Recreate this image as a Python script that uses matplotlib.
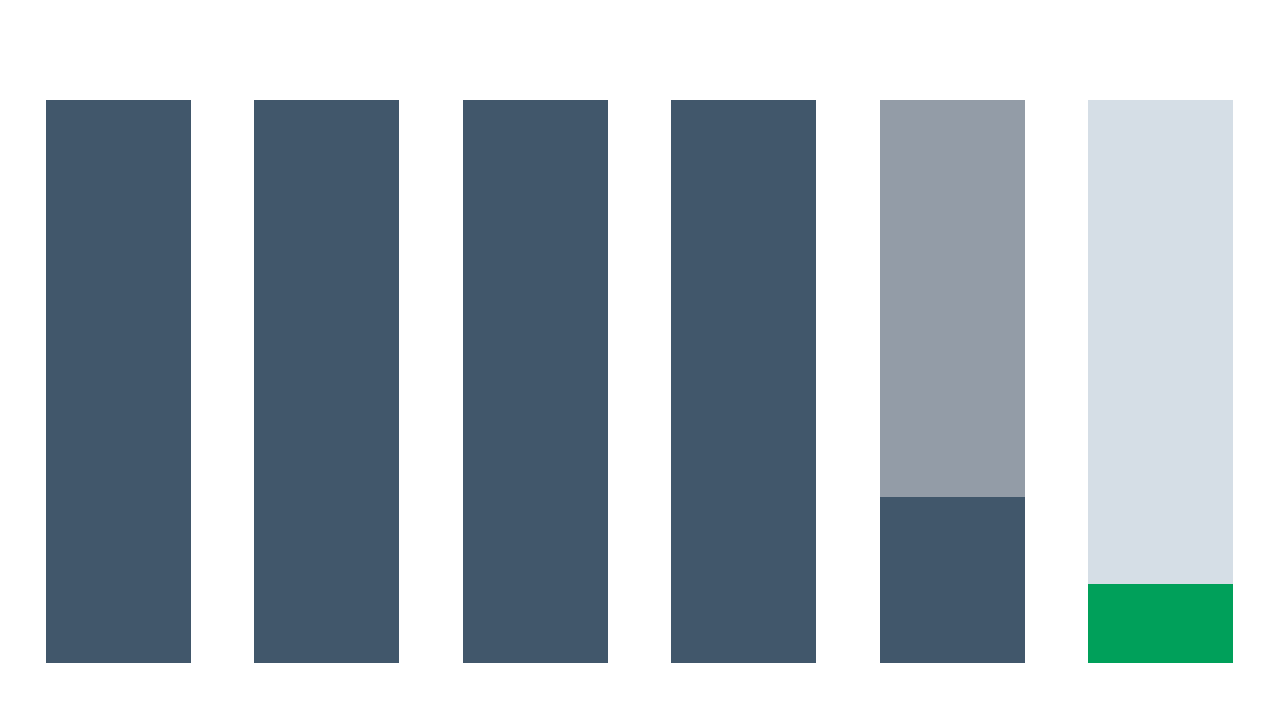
import numpy as np
import matplotlib
matplotlib.use('Agg')
import matplotlib.pyplot as plt

# data
positions = [0, 1, 2, 3, 4, 5]
totals = [100, 100, 100, 100, 100, 100]
filled = [100, 100, 100, 100, 29.5, 14]

dark = '#41576b'
back_colors = [dark, dark, dark, dark, '#939ca7', '#d5dee6']
fill_colors = [dark, dark, dark, dark, dark, '#00a05a']

fig = plt.figure(figsize=(12.8, 7.2), dpi=100)
ax = fig.add_axes([0, 0, 1, 1])

width = 0.695
ax.bar(positions, totals, width=width, color=back_colors, linewidth=0)
ax.bar(positions, filled, width=width, color=fill_colors, linewidth=0)

ax.set_xlim(-0.568, 5.571)
ax.set_ylim(-10.12, 117.76)
ax.axis('off')

plt.savefig('out.png', dpi=100, facecolor='white')
plt.close()
